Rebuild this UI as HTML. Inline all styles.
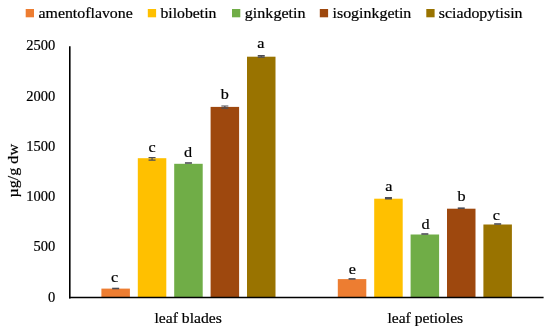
<!DOCTYPE html>
<html><head><meta charset="utf-8"><title>chart</title>
<style>html,body{margin:0;padding:0;background:#fff}svg{display:block}text{font-family:"Liberation Serif",serif;fill:#000;stroke:#000;stroke-width:0.2px}</style></head><body>
<svg width="550" height="333" viewBox="0 0 550 333">
<rect width="550" height="333" fill="#fff"/>
<rect x="25.7" y="9" width="8.3" height="8.3" fill="#ED7D31"/>
<text x="38.5" y="17.6" font-size="14.5" textLength="94.3" lengthAdjust="spacingAndGlyphs">amentoflavone</text>
<rect x="147.8" y="9" width="8.3" height="8.3" fill="#FFC000"/>
<text x="160.5" y="17.6" font-size="14.5" textLength="56.0" lengthAdjust="spacingAndGlyphs">bilobetin</text>
<rect x="232.0" y="9" width="8.3" height="8.3" fill="#70AD47"/>
<text x="244.8" y="17.6" font-size="14.5" textLength="60.8" lengthAdjust="spacingAndGlyphs">ginkgetin</text>
<rect x="319.8" y="9" width="8.3" height="8.3" fill="#9E480E"/>
<text x="332.5" y="17.6" font-size="14.5" textLength="78.8" lengthAdjust="spacingAndGlyphs">isoginkgetin</text>
<rect x="426.3" y="9" width="8.3" height="8.3" fill="#997300"/>
<text x="438.8" y="17.6" font-size="14.5" textLength="83.7" lengthAdjust="spacingAndGlyphs">sciadopytisin</text>
<text x="48.05" y="301.50" font-size="14.5" textLength="7.25" lengthAdjust="spacingAndGlyphs">0</text>
<text x="33.55" y="251.28" font-size="14.5" textLength="21.75" lengthAdjust="spacingAndGlyphs">500</text>
<text x="26.30" y="201.06" font-size="14.5" textLength="29.00" lengthAdjust="spacingAndGlyphs">1000</text>
<text x="26.30" y="150.84" font-size="14.5" textLength="29.00" lengthAdjust="spacingAndGlyphs">1500</text>
<text x="26.30" y="100.62" font-size="14.5" textLength="29.00" lengthAdjust="spacingAndGlyphs">2000</text>
<text x="26.30" y="50.40" font-size="14.5" textLength="29.00" lengthAdjust="spacingAndGlyphs">2500</text>
<text transform="translate(18,197.4) rotate(-90)" font-size="15" textLength="53.4" lengthAdjust="spacingAndGlyphs">µg/g dw</text>
<rect x="101.40" y="288.60" width="28.5" height="8.50" fill="#ED7D31"/>
<path d="M112.15 288.50H119.15" stroke="#4d4d55" stroke-width="1.6" fill="none"/>
<text transform="translate(114.65,282.30) scale(1.08,1)" font-size="15" text-anchor="middle">c</text>
<rect x="137.80" y="158.20" width="28.5" height="138.90" fill="#FFC000"/>
<path d="M148.55 157.60H155.55M148.55 160.10H155.55M152.05 157.60V160.10" stroke="#4d4d55" stroke-width="1.2" fill="none"/>
<text transform="translate(152.05,152.30) scale(1.08,1)" font-size="15" text-anchor="middle">c</text>
<rect x="174.20" y="163.80" width="28.5" height="133.30" fill="#70AD47"/>
<path d="M184.95 163.00H191.95" stroke="#4d4d55" stroke-width="1.6" fill="none"/>
<text transform="translate(187.95,157.40) scale(1.08,1)" font-size="15" text-anchor="middle">d</text>
<rect x="210.60" y="106.90" width="28.5" height="190.20" fill="#9E480E"/>
<path d="M221.35 106.00H228.35M221.35 108.20H228.35M224.85 106.00V108.20" stroke="#4d4d55" stroke-width="1.2" fill="none"/>
<text transform="translate(224.85,98.70) scale(1.08,1)" font-size="15" text-anchor="middle">b</text>
<rect x="247.00" y="56.70" width="28.5" height="240.40" fill="#997300"/>
<path d="M257.75 55.70H264.75M257.75 57.20H264.75M261.25 55.70V57.20" stroke="#4d4d55" stroke-width="1.2" fill="none"/>
<text transform="translate(260.95,48.40) scale(1.08,1)" font-size="15" text-anchor="middle">a</text>
<rect x="337.80" y="279.10" width="28.5" height="18.00" fill="#ED7D31"/>
<path d="M348.55 278.90H355.55" stroke="#4d4d55" stroke-width="1.6" fill="none"/>
<text transform="translate(352.35,274.00) scale(1.08,1)" font-size="15" text-anchor="middle">e</text>
<rect x="374.20" y="198.70" width="28.5" height="98.40" fill="#FFC000"/>
<path d="M384.95 197.60H391.95M384.95 198.80H391.95M388.45 197.60V198.80" stroke="#4d4d55" stroke-width="1.2" fill="none"/>
<text transform="translate(388.75,190.70) scale(1.08,1)" font-size="15" text-anchor="middle">a</text>
<rect x="410.60" y="234.50" width="28.5" height="62.60" fill="#70AD47"/>
<path d="M421.35 234.00H428.35" stroke="#4d4d55" stroke-width="1.6" fill="none"/>
<text transform="translate(425.65,228.70) scale(1.08,1)" font-size="15" text-anchor="middle">d</text>
<rect x="447.00" y="208.70" width="28.5" height="88.40" fill="#9E480E"/>
<path d="M457.75 208.20H464.75" stroke="#4d4d55" stroke-width="1.6" fill="none"/>
<text transform="translate(461.45,200.50) scale(1.08,1)" font-size="15" text-anchor="middle">b</text>
<rect x="483.40" y="224.50" width="28.5" height="72.60" fill="#997300"/>
<path d="M494.15 224.00H501.15" stroke="#4d4d55" stroke-width="1.6" fill="none"/>
<text transform="translate(496.25,219.60) scale(1.08,1)" font-size="15" text-anchor="middle">c</text>
<path d="M69.8 46.3V298.5" stroke="#000" stroke-width="1.6" fill="none"/>
<path d="M69.0 297.55H543.6" stroke="#000" stroke-width="1.6" fill="none"/>
<text x="154.5" y="323.4" font-size="15" textLength="67.3" lengthAdjust="spacingAndGlyphs">leaf blades</text>
<text x="387.4" y="323.4" font-size="15" textLength="75.8" lengthAdjust="spacingAndGlyphs">leaf petioles</text>
</svg></body></html>
